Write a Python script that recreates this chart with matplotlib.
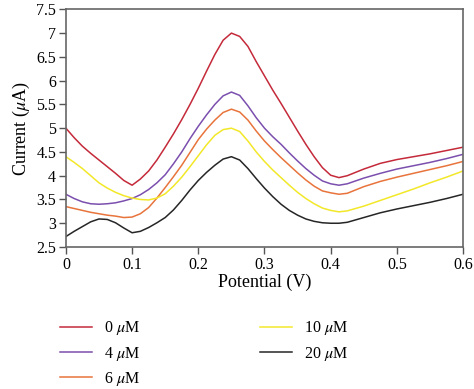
import matplotlib
matplotlib.use("Agg")
import matplotlib.pyplot as plt

potential = [0, 0.0125, 0.025, 0.0375, 0.05, 0.0625, 0.075, 0.0875, 0.1, 0.1125,
             0.125, 0.1375, 0.15, 0.1625, 0.175, 0.1875, 0.2, 0.2125, 0.225, 0.2375,
             0.25, 0.2625, 0.275, 0.2875, 0.3, 0.3125, 0.325, 0.3375, 0.35, 0.3625,
             0.375, 0.3875, 0.4, 0.4125, 0.425, 0.45, 0.475, 0.5, 0.525, 0.55, 0.575, 0.6]

cur_0 = [5.00, 4.80, 4.62, 4.47, 4.33, 4.19, 4.05, 3.90, 3.80, 3.93,
         4.10, 4.33, 4.60, 4.88, 5.18, 5.50, 5.84, 6.20, 6.55, 6.85,
         7.00, 6.93, 6.72, 6.40, 6.10, 5.80, 5.52, 5.23, 4.94, 4.66,
         4.40, 4.17, 4.01, 3.96, 4.00, 4.14, 4.26, 4.34, 4.40, 4.46, 4.53, 4.60]
cur_4 = [3.61, 3.52, 3.45, 3.41, 3.40, 3.41, 3.43, 3.47, 3.52, 3.60,
         3.71, 3.85, 4.02, 4.25, 4.50, 4.78, 5.04, 5.28, 5.50, 5.68,
         5.76, 5.69, 5.47, 5.22, 5.00, 4.82, 4.66, 4.48, 4.31, 4.15,
         4.01, 3.89, 3.83, 3.80, 3.83, 3.95, 4.05, 4.14, 4.21, 4.28, 4.36, 4.45]
cur_6 = [3.35, 3.31, 3.27, 3.23, 3.20, 3.17, 3.15, 3.12, 3.13, 3.20,
         3.33, 3.53, 3.75, 3.98, 4.22, 4.49, 4.76, 4.98, 5.17, 5.33,
         5.40, 5.34, 5.17, 4.94, 4.73, 4.55, 4.38, 4.22, 4.06, 3.91,
         3.78, 3.68, 3.64, 3.61, 3.63, 3.77, 3.88, 3.97, 4.05, 4.13, 4.21, 4.30]
cur_10 = [4.40, 4.28, 4.15, 4.00, 3.85, 3.74, 3.65, 3.58, 3.53, 3.50,
          3.49, 3.53, 3.62, 3.78, 3.97, 4.19, 4.42, 4.65, 4.85, 4.97,
          5.00, 4.93, 4.73, 4.50, 4.30, 4.12, 3.96, 3.80, 3.65, 3.52,
          3.41, 3.32, 3.27, 3.24, 3.26, 3.36, 3.48, 3.60, 3.72, 3.85, 3.97, 4.10]
cur_20 = [2.72, 2.83, 2.93, 3.03, 3.09, 3.08, 3.01, 2.90, 2.80, 2.83,
          2.91, 3.01, 3.12, 3.28, 3.48, 3.70, 3.90, 4.07, 4.22, 4.35,
          4.40, 4.33, 4.15, 3.94, 3.74, 3.56, 3.40, 3.27, 3.17, 3.09,
          3.04, 3.01, 3.00, 3.00, 3.02, 3.12, 3.22, 3.30, 3.37, 3.44, 3.52, 3.61]

labels = ["0 $\\mu$M", "4 $\\mu$M", "6 $\\mu$M", "10 $\\mu$M", "20 $\\mu$M"]
colors = ["#c42a3a", "#7b4fae", "#e8743c", "#f2e829", "#262626"]

plt.rcParams['font.family'] = ['Liberation Serif', 'DejaVu Serif']
plt.rcParams['mathtext.fontset'] = 'stix'
plt.rcParams['font.size'] = 11

fig = plt.figure(figsize=(4.74, 3.89), dpi=100)
ax = fig.add_axes([0.139, 0.365, 0.838, 0.611])

for ys, lab, c in zip([cur_0, cur_4, cur_6, cur_10, cur_20], labels, colors):
	ax.plot(potential, ys, color=c, lw=1.1, label=lab, solid_joinstyle='round')

ax.set_xlim(0, 0.6)
ax.set_ylim(2.5, 7.5)
ax.set_xticks([0, 0.1, 0.2, 0.3, 0.4, 0.5, 0.6])
ax.set_xticklabels(["0", "0.1", "0.2", "0.3", "0.4", "0.5", "0.6"])
ax.set_yticks([2.5, 3, 3.5, 4, 4.5, 5, 5.5, 6, 6.5, 7, 7.5])
ax.set_yticklabels(["2.5", "3", "3.5", "4", "4.5", "5", "5.5", "6", "6.5", "7", "7.5"])
ax.tick_params(direction='out', length=5, width=1, color='#555555', labelsize=11.5, pad=2)
for s in ax.spines.values():
	s.set_color('#666666')
	s.set_linewidth(1.2)

ax.set_xlabel('Potential (V)', fontsize=13, labelpad=1)
ax.set_ylabel('Current ($\\mu$A)', fontsize=13, labelpad=3)

fig.legend(loc='upper left', bbox_to_anchor=(0.127, 0.179), ncol=2, frameon=False,
           fontsize=11.5, handlelength=2.0, handletextpad=0.75, columnspacing=7.5,
           labelspacing=0.45, borderpad=0, borderaxespad=0)

fig.savefig('out.png', dpi=100)
